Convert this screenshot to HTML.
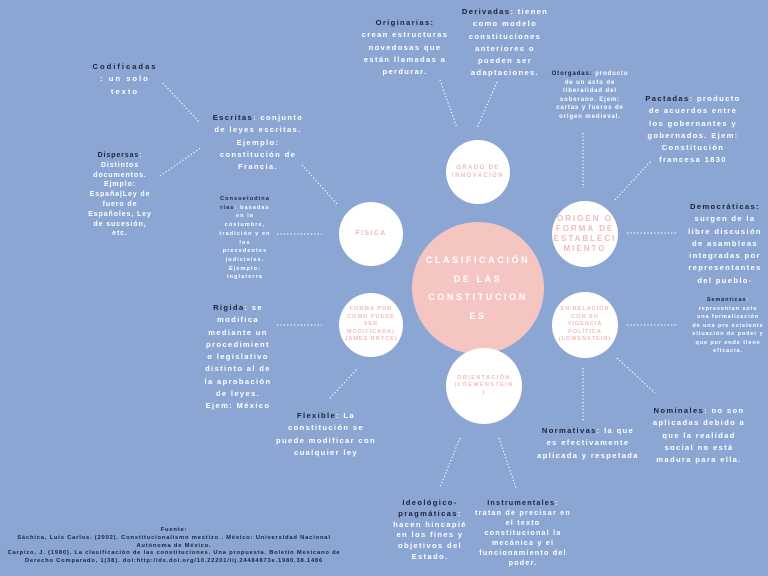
<!DOCTYPE html>
<html><head><meta charset="utf-8"><style>
*{margin:0;padding:0;box-sizing:border-box}
body{width:768px;height:576px;background:#8ca6d3;position:relative;overflow:hidden;font-family:"Liberation Sans",sans-serif;color:#fff}
.t{position:absolute;text-align:center;font-size:7.6px;line-height:12.3px;letter-spacing:1.35px;font-weight:bold;white-space:nowrap;width:160px}
.s{font-size:6px;line-height:8.5px;letter-spacing:0.9px}
b{color:#1c2238}
.c{position:absolute;border-radius:50%;background:#fff;display:flex;align-items:center;justify-content:center;text-align:center;color:#f0bcb8;font-weight:bold;font-size:6px;letter-spacing:1.4px;line-height:8px}
svg{position:absolute;left:0;top:0}
</style></head><body>
<svg width="768" height="576"><g stroke="#fff" stroke-width="1.2" stroke-dasharray="1.2 2.2" fill="none">
<line x1="440" y1="80" x2="457" y2="128"/>
<line x1="497" y1="82" x2="477" y2="128"/>
<line x1="163" y1="83" x2="200" y2="123"/>
<line x1="160" y1="176" x2="202" y2="147"/>
<line x1="302" y1="165" x2="338" y2="205"/>
<line x1="277" y1="234" x2="322" y2="234"/>
<line x1="277" y1="325" x2="322" y2="325"/>
<line x1="330" y1="398" x2="358" y2="368"/>
<line x1="583" y1="133" x2="583" y2="188"/>
<line x1="615" y1="200" x2="652" y2="160"/>
<line x1="627" y1="233" x2="678" y2="233"/>
<line x1="627" y1="325" x2="678" y2="325"/>
<line x1="617" y1="358" x2="655" y2="393"/>
<line x1="583" y1="368" x2="583" y2="422"/>
<line x1="460" y1="438" x2="440" y2="487"/>
<line x1="499" y1="438" x2="516" y2="488"/>
</g></svg>
<div class="c" style="left:412px;top:222px;width:132px;height:132px;background:#f5c5c1;color:#fff;font-size:9px;letter-spacing:2.6px;line-height:18.5px;padding:0 14px">CLASIFICACIÓN DE LAS CONSTITUCION ES</div>
<div class="c" style="left:446px;top:140px;width:64px;height:64px">GRADO DE INNOVACIÓN</div>
<div class="c" style="left:339px;top:202px;width:64px;height:64px;font-size:7px">FISICA</div>
<div class="c" style="left:552px;top:201px;width:66px;height:66px;font-size:8px;line-height:10px;letter-spacing:2px;padding:0 5px">ORIGEN O FORMA DE ESTABLECI MIENTO</div>
<div class="c" style="left:339px;top:293px;width:64px;height:64px;font-size:5.5px;line-height:7.5px;letter-spacing:1px;padding:0 4px">FORMA POR COMO PUEDE SER MODIFICADA( JAMES BRYCE)</div>
<div class="c" style="left:552px;top:292px;width:66px;height:66px;font-size:5.5px;line-height:7.5px;letter-spacing:1px;padding:0 4px">EN RELACIÓN CON SU VIGENCIA POLÍTICA (LOWENSTEIN)</div>
<div class="c" style="left:446px;top:348px;width:76px;height:76px;font-size:5.5px;line-height:7.5px;padding:0 8px">ORIENTACIÓN (LOEWENSTEIN )</div>

<div class="t" style="left:325px;top:17px"><b>Originarias:</b><br>crean estructuras<br>novedosas que<br>están llamadas a<br>perdurar.</div>
<div class="t" style="left:425px;top:6px"><b>Derivadas</b>: tienen<br>como modelo<br>constituciones<br>anteriores o<br>pueden ser<br>adaptaciones.</div>
<div class="t" style="left:45px;top:61px;letter-spacing:2px"><b>Codificadas</b><br>: un solo<br>texto</div>
<div class="t" style="left:178px;top:112px"><b>Escritas</b>: conjunto<br>de leyes escritas.<br>Ejemplo:<br>constitución de<br>Francia.</div>
<div class="t s" style="left:40px;top:151px;font-size:7px;line-height:9.8px"><b>Dispersas</b>:<br>Distintos<br>documentos.<br>Ejmplo:<br>España|Ley de<br>fuero de<br>Españoles, Ley<br>de sucesión,<br>etc.</div>
<div class="t s" style="left:165px;top:195px;font-size:5.5px;line-height:8.7px;letter-spacing:1.1px"><b>Consuetudina<br>rias</b>: basadas<br>en la<br>costumbre,<br>tradición y en<br>los<br>precedentes<br>judiciales.<br>Ejemplo:<br>Inglaterra</div>
<div class="t" style="left:158px;top:302px"><b>Rígida</b>: se<br>modifica<br>mediante un<br>procedimient<br>o legislativo<br>distinto al de<br>la aprobación<br>de leyes.<br>Ejem: México</div>
<div class="t" style="left:246px;top:410px"><b>Flexible</b>: La<br>constitución se<br>puede modificar con<br>cualquier ley</div>
<div class="t s" style="left:510px;top:70px;line-height:8.6px"><b>Otorgadas:</b> producto<br>de un acto de<br>liberalidad del<br>soberano. Ejem:<br>cartas y fueros de<br>origen medieval.</div>
<div class="t" style="left:613px;top:93px"><b>Pactadas</b>: producto<br>de acuerdos entre<br>los gobernantes y<br>gobernados. Ejem:<br>Constitución<br>francesa 1830</div>
<div class="t" style="left:645px;top:201px"><b>Democráticas:</b><br>surgen de la<br>libre discusión<br>de asambleas<br>integradas por<br>representantes<br>del pueblo-</div>
<div class="t s" style="left:648px;top:296px;font-size:5.5px;line-height:8.5px"><b>Semánticas</b>:<br>representan solo<br>una formalización<br>de una pre existente<br>situación de poder y<br>que por ende tiene<br>eficacia.</div>
<div class="t" style="left:619px;top:405px"><b>Nominales</b>: no son<br>aplicadas debido a<br>que la realidad<br>social no está<br>madura para ella.</div>
<div class="t" style="left:508px;top:425px"><b>Normativas</b>: la que<br>es efectivamente<br>aplicada y respetada</div>
<div class="t" style="left:350px;top:498px;line-height:10.8px"><b>Ideológico-<br>pragmáticas</b>:<br>hacen hincapié<br>en los fines y<br>objetivos del<br>Estado.</div>
<div class="t" style="left:443px;top:498px;font-size:7.2px;line-height:10px;letter-spacing:1.2px"><b>Instrumentales</b>:<br>tratan de precisar en<br>el texto<br>constitucional la<br>mecánica y el<br>funcionamiento del<br>poder.</div>
<div class="t s" style="left:-6px;top:527px;width:360px;font-size:5.8px;line-height:7.8px;color:#1c2238;letter-spacing:0.8px">Fuente:<br>Sáchica, Luis Carlos. (2002). Constitucionalismo mestizo . México: Universidad Nacional<br>Autónoma de México.<br>Carpizo, J. (1980). La clasificación de las constituciones. Una propuesta. Boletín Mexicano de<br>Derecho Comparado, 1(38). doi:http://dx.doi.org/10.22201/iij.24484873e.1980.38.1486</div>
</body></html>
